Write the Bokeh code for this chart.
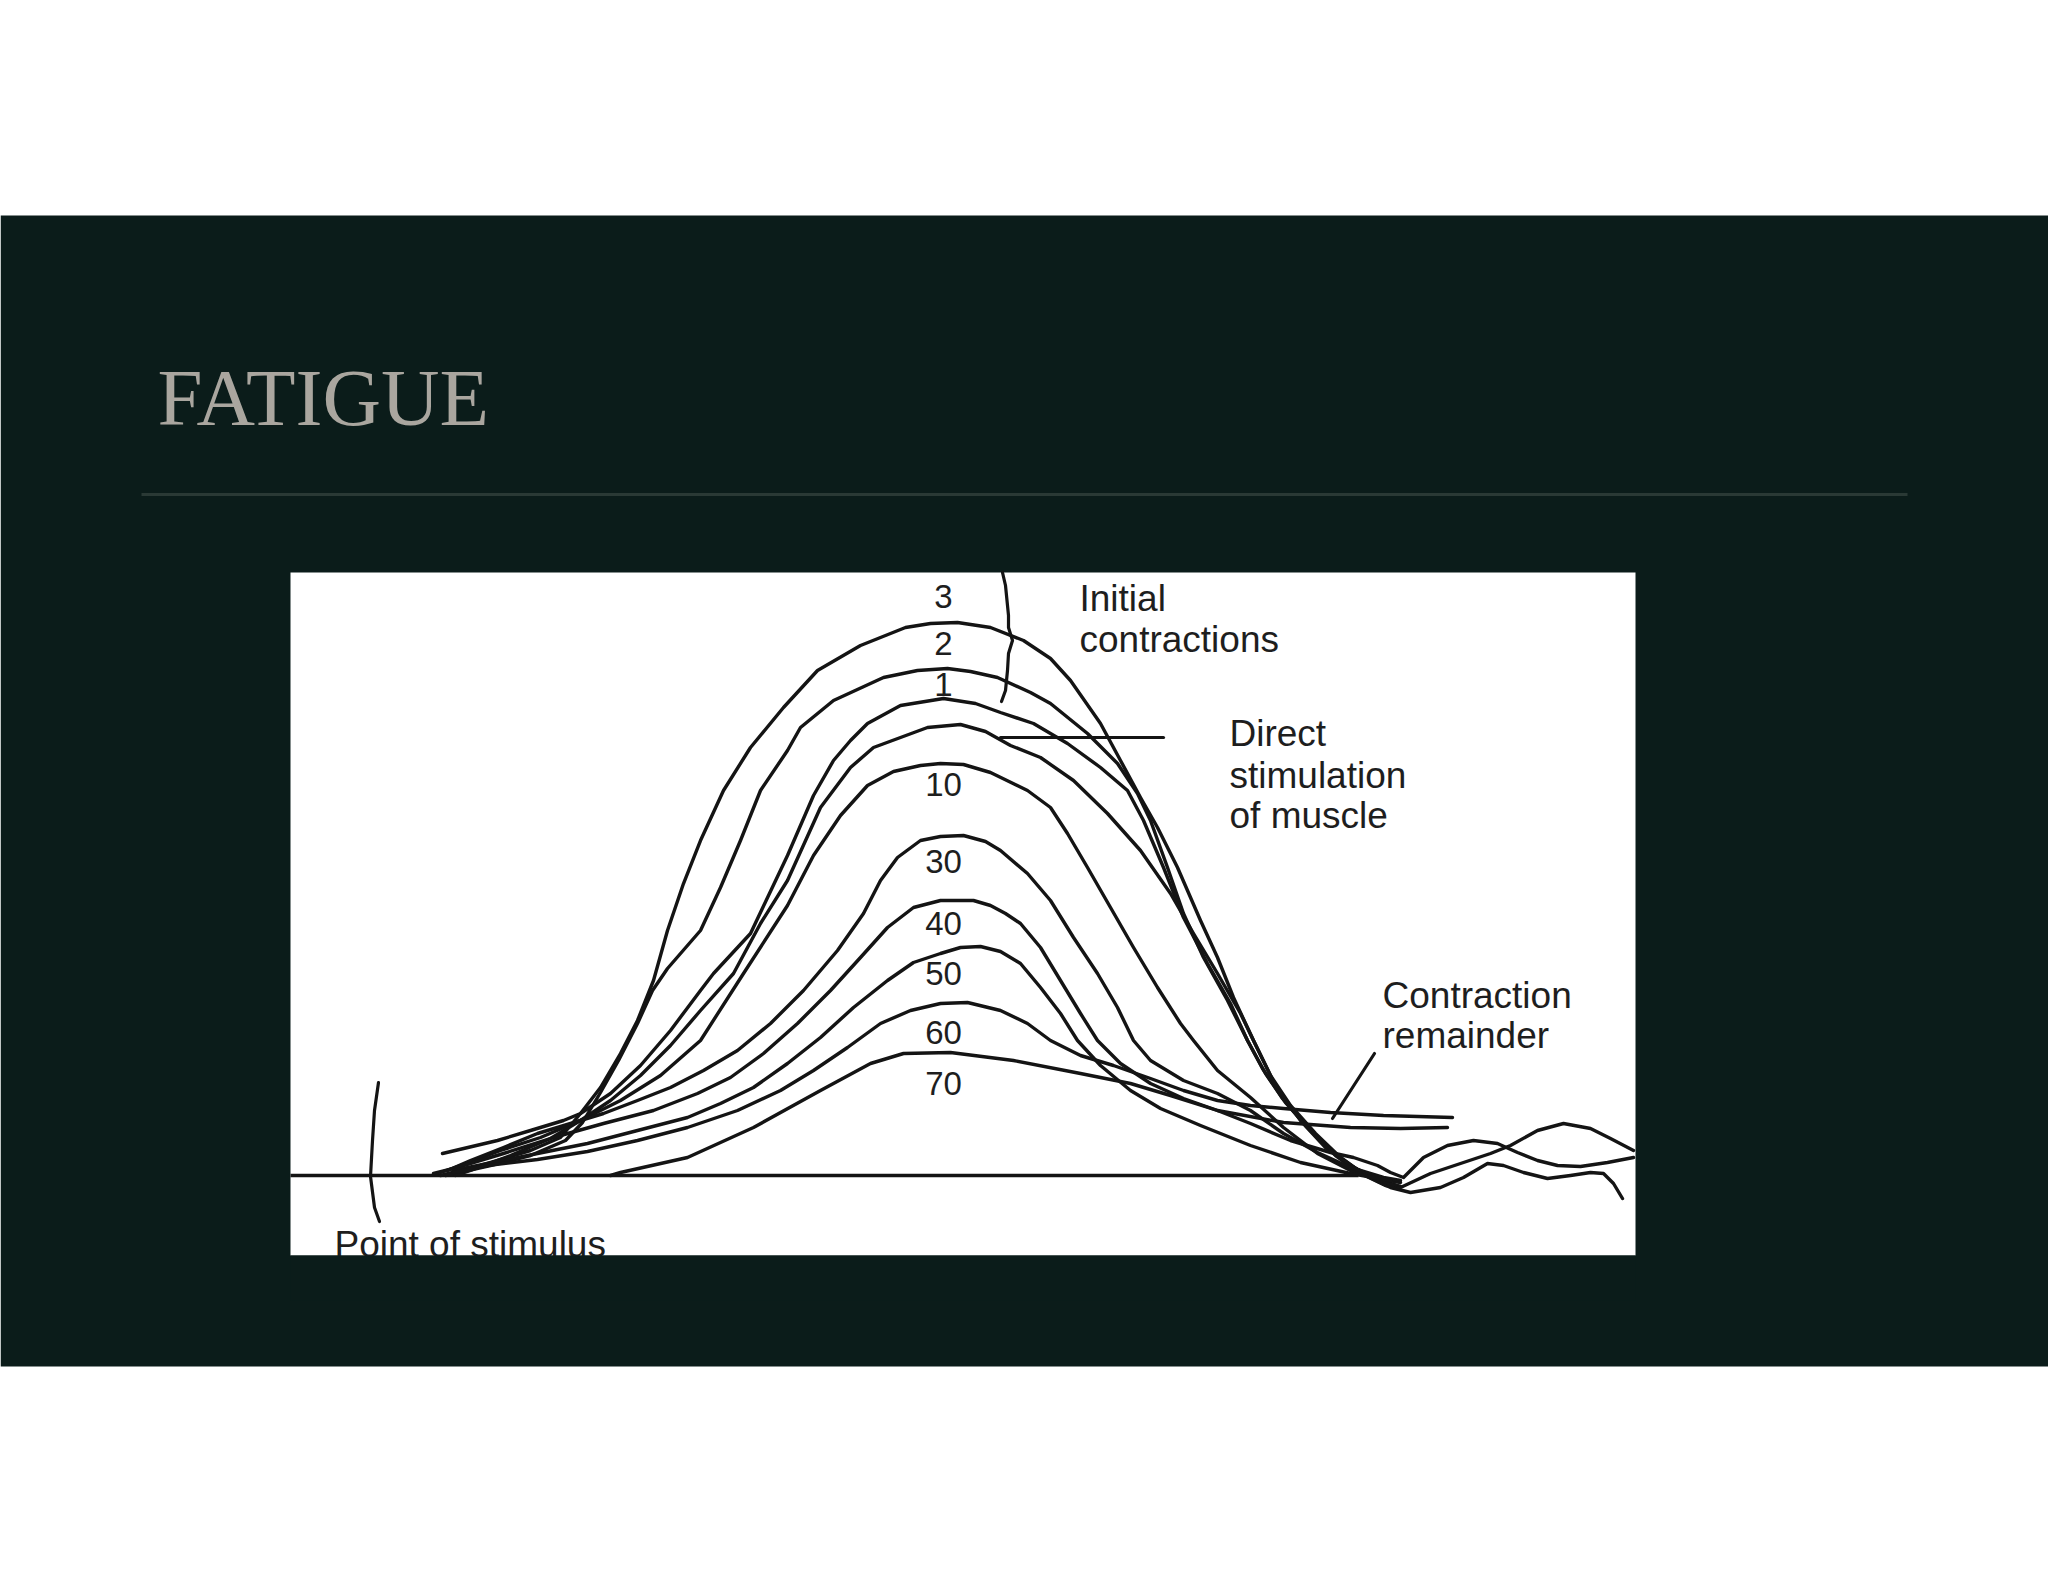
from bokeh.plotting import figure
from bokeh.models import Range1d
from bokeh.core.properties import value
from bokeh.embed import file_html
from bokeh.resources import INLINE

# ---------------- data (time in arbitrary units, tension in arbitrary units) ----------------
TITLE = ["FATIGUE"]

time_3 = [440, 480, 530, 560, 580, 600, 620, 637, 653, 667, 683, 700, 723, 750, 783, 817, 860, 905, 930, 957, 990,
          1023, 1050, 1070, 1100, 1120, 1140, 1157, 1177, 1200, 1217, 1233, 1253, 1270, 1290, 1315, 1340, 1365,
          1390, 1410, 1440, 1463, 1487, 1503, 1523, 1547, 1570, 1590, 1603, 1613, 1622]
tension_3 = [0, 10, 25, 38, 62, 88, 122, 155, 195, 245, 292, 335, 385, 428, 468, 505, 530, 548, 552, 553, 548,
             535, 517, 495, 452, 415, 378, 348, 308, 255, 218, 178, 135, 100, 70, 42, 18, 0,
             -12, -17, -12, -2, 12, 10, 3, -3, 0, 3, 2, -8, -23]

time_2 = [445, 490, 530, 565, 582, 600, 618, 637, 652, 667, 700, 720, 740, 760, 787, 800, 833, 883, 917, 947,
          970, 997, 1030, 1050, 1087, 1117, 1137, 1150, 1167, 1183, 1203, 1227, 1247, 1265, 1285, 1310, 1335,
          1360, 1385, 1400, 1430, 1463, 1490, 1510, 1537, 1563, 1590, 1610, 1633]
tension_2 = [0, 10, 20, 35, 53, 83, 115, 152, 185, 207, 245, 288, 335, 385, 425, 448, 475, 498, 505, 507,
             504, 498, 483, 472, 442, 412, 382, 355, 308, 262, 218, 175, 135, 102, 73, 45, 20,
             2, -10, -12, 2, 13, 22, 30, 45, 52, 47, 37, 25]

time_1 = [442, 497, 530, 563, 580, 610, 640, 670, 700, 713, 750, 787, 813, 833, 850, 867, 900, 943, 975,
          1000, 1033, 1067, 1100, 1127, 1143, 1163, 1183, 1207, 1230, 1247, 1262, 1282, 1305, 1330, 1355,
          1380, 1400]
tension_1 = [22, 35, 45, 55, 62, 82, 110, 145, 185, 202, 242, 320, 380, 415, 435, 452, 470, 477, 472,
             463, 452, 432, 408, 385, 355, 308, 258, 212, 172, 135, 107, 77, 50, 25, 7,
             -5, -11]

time_direct = [455, 470, 510, 550, 580, 610, 640, 670, 700, 733, 760, 787, 820, 850, 873, 900, 927, 960, 985,
               1010, 1040, 1073, 1107, 1140, 1170, 1193, 1217, 1240, 1253, 1275, 1300, 1325, 1350, 1375, 1395]
tension_direct = [0, 5, 20, 37, 55, 75, 100, 130, 165, 202, 252, 295, 368, 408, 428, 438, 448, 451, 444,
                  430, 418, 395, 362, 325, 282, 242, 202, 162, 135, 90, 55, 28, 10, -3, -10]

time_10 = [440, 460, 500, 540, 580, 620, 660, 700, 743, 787, 813, 840, 867, 893, 920, 940, 963, 990, 1027,
           1050, 1067, 1087, 1110, 1133, 1157, 1180, 1193, 1217, 1250, 1283, 1317, 1350, 1377, 1400]
tension_10 = [3, 10, 25, 38, 55, 75, 100, 135, 202, 270, 320, 360, 390, 404, 410, 412, 411, 403, 385,
              368, 342, 308, 268, 228, 188, 152, 135, 105, 78, 48, 22, 5, -3, -7]

time_30 = [447, 470, 503, 537, 570, 603, 637, 670, 703, 737, 770, 803, 837, 863, 880, 897, 920, 940, 963, 985,
           1000, 1027, 1050, 1073, 1097, 1117, 1133, 1150, 1183, 1217, 1250, 1283, 1317, 1350, 1383, 1400]
tension_30 = [5, 15, 28, 42, 52, 62, 75, 88, 105, 125, 152, 185, 225, 262, 295, 318, 335, 339, 340, 334,
              325, 302, 275, 238, 202, 168, 135, 115, 95, 82, 65, 42, 23, 8, -2, -5]

time_40 = [433, 453, 503, 553, 603, 653, 697, 730, 763, 797, 830, 860, 887, 913, 940, 973, 990, 1005, 1020,
           1040, 1060, 1080, 1097, 1120, 1150, 1183, 1217, 1250, 1290, 1330, 1353, 1377, 1390, 1403, 1423,
           1447, 1473, 1497, 1517, 1537, 1557, 1580, 1607, 1633]
tension_40 = [2, 7, 22, 38, 52, 65, 82, 98, 122, 152, 185, 218, 248, 268, 275, 275, 270, 262, 252,
              228, 195, 162, 135, 112, 92, 77, 65, 52, 35, 23, 18, 10, 3, -2, 18,
              30, 35, 32, 23, 15, 10, 9, 13, 18]

time_50 = [453, 487, 537, 587, 637, 687, 720, 753, 787, 820, 853, 887, 913, 940, 960, 980, 1000, 1020, 1040,
           1060, 1077, 1100, 1130, 1160, 1200, 1250, 1300, 1350, 1390]
tension_50 = [5, 12, 22, 32, 45, 58, 72, 88, 112, 138, 168, 195, 213, 222, 228, 229, 224, 212, 188,
              162, 135, 110, 85, 67, 50, 30, 13, 2, -5]

time_60 = [453, 487, 537, 587, 637, 687, 737, 780, 813, 847, 880, 910, 940, 967, 1000, 1027, 1050, 1080, 1113,
           1150, 1183, 1217, 1250, 1283, 1330, 1383, 1452]
tension_60 = [3, 10, 16, 24, 35, 48, 65, 85, 105, 128, 152, 165, 172, 173, 165, 152, 135, 120, 110,
              97, 85, 75, 70, 67, 63, 60, 58]

time_70 = [610, 620, 687, 753, 820, 870, 903, 950, 1013, 1080, 1130, 1170, 1217, 1283, 1350, 1400, 1447]
tension_70 = [0, 3, 18, 48, 85, 112, 122, 123, 115, 102, 92, 80, 65, 53, 48, 47, 48]

baseline_time = [290, 1358]
baseline_tension = [0, 0]

stimulus_time = [378, 374, 372, 370, 374, 379]
stimulus_tension = [93, 65, 35, -1, -32, -46]

brace_time = [1002, 1005, 1008, 1008, 1012, 1008, 1007, 1005, 1001]
brace_tension = [603, 590, 560, 548, 535, 522, 505, 485, 474]

direct_pointer_time = [1000, 1163]
direct_pointer_tension = [438, 438]

remainder_pointer_time = [1374, 1332]
remainder_pointer_tension = [122, 57]

curve_labels = ["3", "2", "1", "10", "30", "40", "50", "60", "70"]
curve_label_time = [943, 943, 943, 943, 943, 943, 943, 943, 943]
curve_label_tension = [579, 532, 491, 391, 314, 252, 202, 143, 92]

note_texts = ["Initial", "contractions", "Direct", "stimulation", "of muscle",
              "Contraction", "remainder", "Point of stimulus"]
note_time = [1079, 1079, 1229, 1229, 1229, 1382, 1382, 334]
note_tension = [577, 536, 442, 400, 360, 180, 140, -69]

# ---------------- page layout (slide pixels) ----------------
BAND = "#0b1c1a"
INK = "#141414"
TEXT = "#1e1e1e"

p = figure(width=2048, height=1582,
           x_range=Range1d(0, 2048), y_range=Range1d(-407, 1175),
           output_backend="svg", toolbar_location=None, x_axis_type=None, y_axis_type=None,
           min_border=0, background_fill_color="white", border_fill_color="white",
           outline_line_color=None)
p.grid.visible = False
p.extra_x_ranges = {"page": Range1d(0, 2048)}
p.extra_y_ranges = {"page": Range1d(1582, 0)}

PG = dict(x_range_name="page", y_range_name="page")

# dark slide band, divider rule, white picture box, title
p.quad(left=[0], right=[2048], top=[215], bottom=[1366], fill_color=BAND, line_color=None, **PG)
p.line([141, 1907], [494, 494], line_color="#2a3935", line_width=3, **PG)
p.quad(left=[290], right=[1635], top=[572], bottom=[1255], fill_color="white", line_color=None, **PG)
p.text(x=[157], y=[397], text=TITLE, text_font=value("Liberation Serif"),
       text_font_size="81px", text_color="#aaa69f", text_baseline="alphabetic", **PG)

# diagram
p.line(baseline_time, baseline_tension, line_color=INK, line_width=3.5)

curves = [(time_3, tension_3), (time_2, tension_2), (time_1, tension_1),
          (time_direct, tension_direct), (time_10, tension_10), (time_30, tension_30),
          (time_40, tension_40), (time_50, tension_50), (time_60, tension_60),
          (time_70, tension_70)]
for t, v in curves:
    p.line(t, v, line_color=INK, line_width=3.4, line_join="round", line_cap="round")

for t, v in [(stimulus_time, stimulus_tension), (brace_time, brace_tension),
             (direct_pointer_time, direct_pointer_tension),
             (remainder_pointer_time, remainder_pointer_tension)]:
    p.line(t, v, line_color=INK, line_width=3.2, line_join="round", line_cap="round")

p.text(x=curve_label_time, y=curve_label_tension, text=curve_labels,
       text_font=value("Liberation Sans"), text_font_size="33px", text_align="center",
       text_baseline="alphabetic", text_color=TEXT)

p.text(x=note_time, y=note_tension, text=note_texts,
       text_font=value("Liberation Sans"), text_font_size="37px", text_align="left",
       text_baseline="alphabetic", text_color=TEXT)

# the picture is cropped at its lower edge
p.quad(left=[290], right=[1635], top=[1255], bottom=[1300], fill_color=BAND, line_color=None, **PG)

open("out.html", "w").write(file_html(p, INLINE))
